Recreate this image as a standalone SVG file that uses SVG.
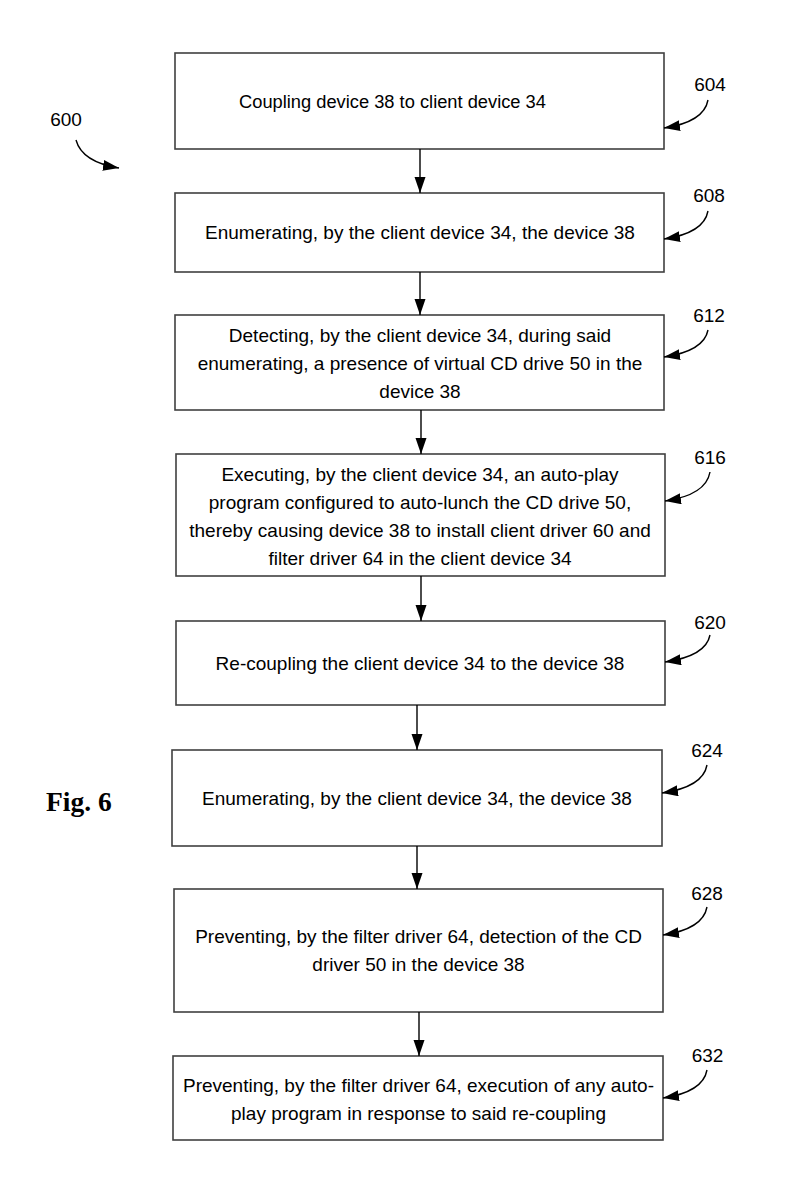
<svg xmlns="http://www.w3.org/2000/svg" width="810" height="1200" viewBox="0 0 810 1200">
<style>
.box{fill:#fff;stroke:#404040;stroke-width:1.6}
.t{font-family:"Liberation Sans",Arial,sans-serif;font-size:19px;fill:#000;text-anchor:middle}
.lbl{font-family:"Liberation Sans",Arial,sans-serif;font-size:19px;fill:#000;text-anchor:middle}
.fig{font-family:"Liberation Serif","Times New Roman",serif;font-size:27.5px;font-weight:bold;fill:#000}
.ln{fill:none;stroke:#000;stroke-width:1.4}
</style>
<defs>
<marker id="ah" markerUnits="userSpaceOnUse" markerWidth="17" markerHeight="12" refX="16" refY="5.5" orient="auto">
<path d="M0,0 L16,5.5 L0,11 z" fill="#000"/>
</marker>
</defs>
<rect width="810" height="1200" fill="#fff"/>

<g id="label600">
<text class="lbl" x="66" y="126">600</text>
</g>
<g id="fig6"><text class="fig" x="46" y="811">Fig. 6</text></g>

<g id="n604">
<rect class="box" x="175" y="53" width="489" height="96"/>
<text class="t" x="392.5" y="107.5" style="font-size:18.3px">Coupling device 38 to client device 34</text>
<text class="lbl" x="710" y="91">604</text>
</g>
<g id="n608">
<rect class="box" x="175" y="193" width="489" height="79"/>
<text class="t" x="420" y="239">Enumerating, by the client device 34, the device 38</text>
<text class="lbl" x="709" y="202">608</text>
</g>
<g id="n612">
<rect class="box" x="175" y="315" width="489" height="95"/>
<text class="t" x="420" y="341.5">Detecting, by the client device 34, during said</text>
<text class="t" x="420" y="369.5">enumerating, a presence of virtual CD drive 50 in the</text>
<text class="t" x="420" y="397.5">device 38</text>
<text class="lbl" x="709" y="322">612</text>
</g>
<g id="n616">
<rect class="box" x="176" y="454" width="489" height="122"/>
<text class="t" x="420" y="480.5">Executing, by the client device 34, an auto-play</text>
<text class="t" x="420" y="508.5">program configured to auto-lunch the CD drive 50,</text>
<text class="t" x="420" y="536.5">thereby causing device 38 to install client driver 60 and</text>
<text class="t" x="420" y="564.5">filter driver 64 in the client device 34</text>
<text class="lbl" x="710" y="464">616</text>
</g>
<g id="n620">
<rect class="box" x="176" y="621" width="489" height="84"/>
<text class="t" x="420" y="669.5">Re-coupling the client device 34 to the device 38</text>
<text class="lbl" x="710" y="629">620</text>
</g>
<g id="n624">
<rect class="box" x="172" y="750" width="490" height="96"/>
<text class="t" x="417" y="805">Enumerating, by the client device 34, the device 38</text>
<text class="lbl" x="707" y="757">624</text>
</g>
<g id="n628">
<rect class="box" x="174" y="889" width="489" height="123"/>
<text class="t" x="418.5" y="943">Preventing, by the filter driver 64, detection of the CD</text>
<text class="t" x="418.5" y="971">driver 50 in the device 38</text>
<text class="lbl" x="707" y="900">628</text>
</g>
<g id="n632">
<rect class="box" x="173" y="1056" width="490" height="84"/>
<text class="t" x="418.5" y="1091.5">Preventing, by the filter driver 64, execution of any auto-</text>
<text class="t" x="418.5" y="1119.5">play program in response to said re-coupling</text>
<text class="lbl" x="707.5" y="1062">632</text>
</g>

<g id="connectors">
<line class="ln" x1="420" y1="149" x2="420" y2="193" marker-end="url(#ah)"/>
<line class="ln" x1="420" y1="272" x2="420" y2="315" marker-end="url(#ah)"/>
<line class="ln" x1="421" y1="410" x2="421" y2="454" marker-end="url(#ah)"/>
<line class="ln" x1="421" y1="576" x2="421" y2="621" marker-end="url(#ah)"/>
<line class="ln" x1="417" y1="705" x2="417" y2="750" marker-end="url(#ah)"/>
<line class="ln" x1="417" y1="846" x2="417" y2="889" marker-end="url(#ah)"/>
<line class="ln" x1="419" y1="1012" x2="419" y2="1056" marker-end="url(#ah)"/>
<path class="ln" d="M76,140 Q82,162 119,168" marker-end="url(#ah)"/>
<path class="ln" d="M708,100 Q704,122 664,128" marker-end="url(#ah)"/>
<path class="ln" d="M708,211 Q704,233 664,239" marker-end="url(#ah)"/>
<path class="ln" d="M708,330 Q704,351 664,357" marker-end="url(#ah)"/>
<path class="ln" d="M710,472 Q706,495 665,501" marker-end="url(#ah)"/>
<path class="ln" d="M710,635 Q706,656 665,662" marker-end="url(#ah)"/>
<path class="ln" d="M707,765 Q703,787 662,793" marker-end="url(#ah)"/>
<path class="ln" d="M707,907 Q703,929 663,935" marker-end="url(#ah)"/>
<path class="ln" d="M707,1070 Q703,1092 663,1098" marker-end="url(#ah)"/>
</g>
</svg>
